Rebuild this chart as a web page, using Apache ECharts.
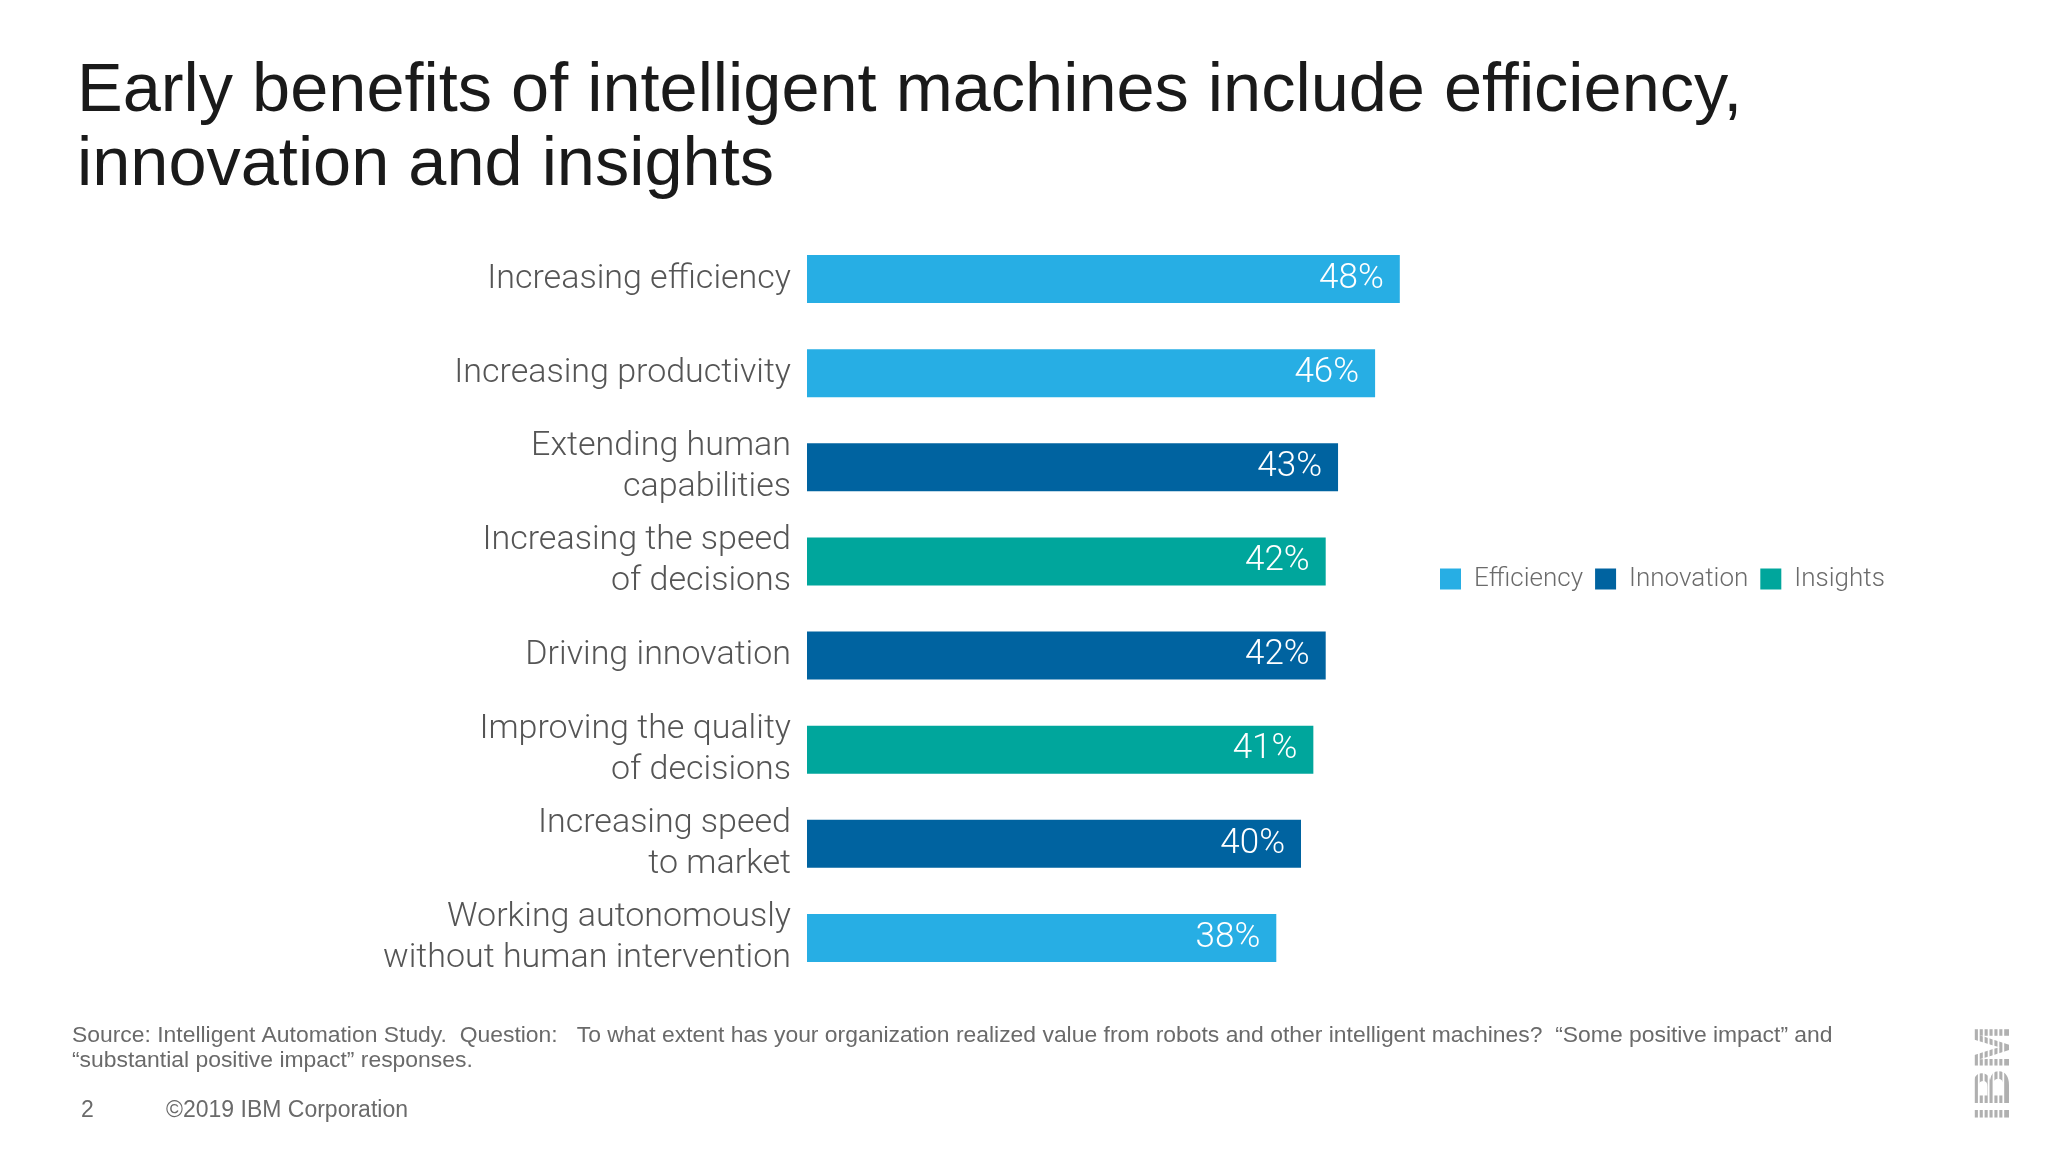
<!DOCTYPE html>
<html>
<head>
<meta charset="utf-8">
<title>Early benefits of intelligent machines</title>
<script src="https://cdn.jsdelivr.net/npm/echarts@6/dist/echarts.min.js"></script>
<style>
  html, body { margin: 0; padding: 0; background: #ffffff; }
  #chart { width: 2048px; height: 1152px; }
</style>
</head>
<body>
<div id="chart"></div>
<script>
// data, top to bottom
const categories = [
  'Increasing efficiency',
  'Increasing productivity',
  'Extending human\ncapabilities',
  'Increasing the speed\nof decisions',
  'Driving innovation',
  'Improving the quality\nof decisions',
  'Increasing speed\nto market',
  'Working autonomously\nwithout human intervention'
]
const values = [48, 46, 43, 42, 42, 41, 40, 38]
const groups = ['Efficiency', 'Efficiency', 'Innovation', 'Insights', 'Innovation', 'Insights', 'Innovation', 'Efficiency']
const groupNames = ['Efficiency', 'Innovation', 'Insights']
const groupColors = {
  Efficiency: '#27aee4',
  Innovation: '#0063a0',
  Insights: '#00a69c'
}

const titleLines = 'Early benefits of intelligent machines include efficiency,\ninnovation and insights'
const sourceText = 'Source: Intelligent Automation Study.  Question:   To what extent has your organization realized value from robots and other intelligent machines?  \u201cSome positive impact\u201d and\n\u201csubstantial positive impact\u201d responses.'

const lightFont = 'Roboto, "Helvetica Neue", Arial, sans-serif'

// one series per group, '-' where the bar belongs to another group
const series = groupNames.map(name => ({
  name: name,
  type: 'bar',
  stack: 'all',
  barWidth: 48,
  itemStyle: { color: groupColors[name] },
  label: {
    show: true,
    position: 'insideRight',
    distance: 16,
    color: '#ffffff',
    fontFamily: lightFont,
    fontWeight: 300,
    fontSize: 35,
    padding: [7, 0, 0, 0],
    formatter: p => p.value + '%'
  },
  data: values.map((v, i) => (groups[i] === name ? v : '-'))
}))

// little striped IBM mark, bottom right
const logoStripes = []
for (let k = 0; k < 7; k++) {
  logoStripes.push({
    type: 'rect',
    shape: { x: 1973 + k * 4.9, y: 1020, width: 1.8, height: 104 },
    style: { fill: '#ffffff' },
    z: 10
  })
}

const option = {
  backgroundColor: '#ffffff',
  animation: false,
  grid: { left: 807, top: 232, right: 500, bottom: 167 },
  legend: {
    left: 1435,
    top: 561,
    icon: 'rect',
    itemWidth: 21,
    itemHeight: 21,
    itemGap: 12,
    data: groupNames,
    textStyle: {
      color: '#6b6b6b',
      fontFamily: lightFont,
      fontWeight: 300,
      fontSize: 26,
      padding: [0, 0, 0, 8]
    }
  },
  xAxis: {
    type: 'value',
    min: 0,
    max: 60,
    show: false
  },
  yAxis: {
    type: 'category',
    inverse: true,
    data: categories,
    axisLine: { show: false },
    axisTick: { show: false },
    splitLine: { show: false },
    axisLabel: {
      margin: 16,
      color: '#555555',
      fontFamily: lightFont,
      fontWeight: 300,
      fontSize: 34,
      lineHeight: 41,
      align: 'right',
      padding: [5, 0, 0, 0]
    }
  },
  series: series,
  graphic: [
    {
      type: 'text',
      left: 77,
      top: 55,
      style: {
        text: titleLines,
        fill: '#1a1a1a',
        font: '68.5px "Liberation Sans", Arial, sans-serif',
        lineHeight: 74
      }
    },
    {
      type: 'text',
      left: 72,
      top: 1023,
      style: {
        text: sourceText,
        fill: '#6a6a6a',
        font: '22.9px "Liberation Sans", Arial, sans-serif',
        lineHeight: 25
      }
    },
    {
      type: 'text',
      left: 81,
      top: 1099,
      style: {
        text: '2',
        fill: '#6a6a6a',
        font: '23px "Liberation Sans", Arial, sans-serif'
      }
    },
    {
      type: 'text',
      left: 166,
      top: 1099,
      style: {
        text: '\u00a92019 IBM Corporation',
        fill: '#6a6a6a',
        font: '23px "Liberation Sans", Arial, sans-serif'
      }
    },
    {
      type: 'text',
      x: 1969,
      y: 1121,
      rotation: Math.PI / 2,
      style: {
        text: 'IBM',
        fill: '#b0b0b0',
        font: 'bold 52px "Liberation Sans", Arial, sans-serif',
        textVerticalAlign: 'top',
        textAlign: 'left'
      }
    }
  ].concat(logoStripes)
}

const myChart = echarts.init(document.getElementById('chart'))
myChart.setOption(option)
</script>
</body>
</html>
